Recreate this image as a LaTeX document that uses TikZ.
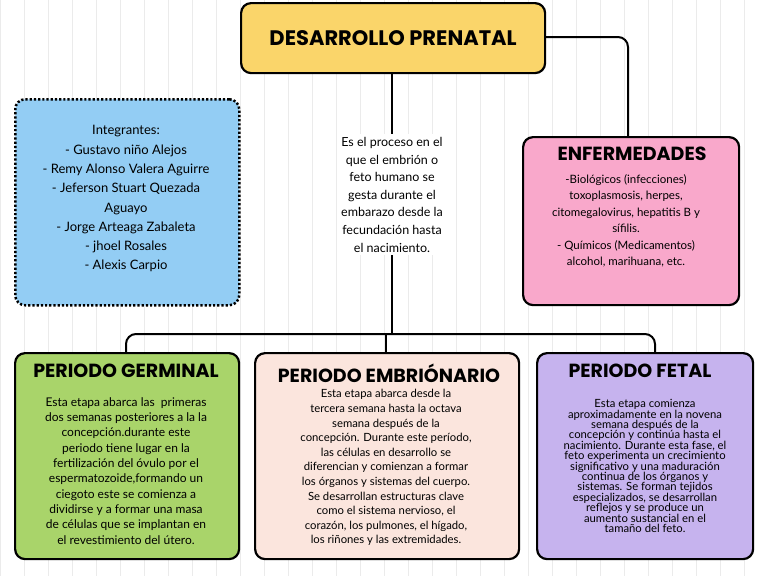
\documentclass[tikz,border=0pt]{standalone}
\usepackage{fontspec}
\setmainfont{Poppins}
\newfontfamily\bodyf{Lato}
\usetikzlibrary{positioning}
\definecolor{ttl}{HTML}{FAD56A}
\definecolor{blu}{HTML}{93CDF4}
\definecolor{pnk}{HTML}{F9A8CB}
\definecolor{grn}{HTML}{A9D46A}
\definecolor{emb}{HTML}{FBE5DD}
\definecolor{fet}{HTML}{C6B3EE}
\definecolor{gridc}{HTML}{EBEBEB}
\begin{document}
\begin{tikzpicture}[x=1pt,y=-1pt,
 box/.style={draw=black,line width=2.2pt,rounded corners=10pt,anchor=north west,inner sep=0pt},
 head/.style={font=\fontsize{19}{22}\selectfont\bfseries,anchor=north},
 body/.style={font=\bodyf\fontsize{10.5}{12.6}\selectfont,align=center,anchor=north},
 conn/.style={line width=2pt,rounded corners=10pt}]
\useasboundingbox (0,0) rectangle (768,576);
\fill[white] (0,0) rectangle (768,576);
\draw[gridc,step=24] (0,0) grid (768,576);
% connectors
\coordinate (jn) at (392,334);
\draw[conn] (392,72) -- (392,334);
\draw[conn] (126,352) -- (126,334) -- (655,334) -- (655,352);
\draw[conn] (386,334) -- (386,352);
\draw[conn] (544,37) -- (628,37) -- (628,136);
% title
\node[box,fill=ttl,minimum width=304,minimum height=70] (t) at (240,2) {};
\node[font=\fontsize{21}{24}\selectfont\bfseries] at (t.center) {DESARROLLO PRENATAL};
% integrantes
\node[box,fill=blu,draw=black,dotted,line width=2.5pt,minimum width=224,minimum height=206] (i) at (14,98) {};
\node[body,font=\bodyf\fontsize{13}{19.3}\selectfont] at (126,122) {Integrantes:\\- Gustavo niño Alejos\\- Remy Alonso Valera Aguirre\\- Jeferson Stuart Quezada\\Aguayo\\- Jorge Arteaga Zabaleta\\- jhoel Rosales\\- Alexis Carpio};
% description
\node[body,fill=white,font=\bodyf\fontsize{12.5}{17.6}\selectfont,inner sep=3pt] (d) at (392,134) {Es el proceso en el\\que el embrión o\\feto humano se\\gesta durante el\\embarazo desde la\\fecundación hasta\\el nacimiento.};
% enfermedades
\node[box,fill=pnk,minimum width=216,minimum height=168] (e) at (522,136) {};
\node[head] at (632,143) {ENFERMEDADES};
\node[body,font=\bodyf\fontsize{11.5}{16.5}\selectfont] at (626,171) {-Biológicos (infecciones)\\toxoplasmosis, herpes,\\citomegalovirus, hepatitis B y\\sífilis.\\- Químicos (Medicamentos)\\alcohol, marihuana, etc.};
% germinal
\node[box,fill=grn,minimum width=224,minimum height=206] (g) at (14,352) {};
\node[head] at (126,360) {PERIODO GERMINAL};
\node[body,font=\bodyf\fontsize{12}{15.3}\selectfont] at (126,394) {Esta etapa abarca las\ \ primeras\\dos semanas posteriores a la la\\concepción.durante este\\periodo tiene lugar en la\\fertilización del óvulo por el\\espermatozoide,formando un\\ciegoto este se comienza a\\dividirse y a formar una masa\\de células que se implantan en\\el revestimiento del útero.};
% embrionario
\node[box,fill=emb,minimum width=264,minimum height=206] (m) at (254,352) {};
\node[head] at (389,360) {PERIODO EMBRIÓNARIO};
\node[body,font=\bodyf\fontsize{11.3}{14.6}\selectfont] at (386,386) {Esta etapa abarca desde la\\tercera semana hasta la octava\\semana después de la\\concepción. Durante este período,\\las células en desarrollo se\\diferencian y comienzan a formar\\los órganos y sistemas del cuerpo.\\Se desarrollan estructuras clave\\como el sistema nervioso, el\\corazón, los pulmones, el hígado,\\los riñones y las extremidades.};
% fetal
\node[box,fill=fet,minimum width=216,minimum height=206] (f) at (536,352) {};
\node[head] at (640,360) {PERIODO FETAL};
\node[body,font=\bodyf\fontsize{11.3}{10.4}\selectfont] at (645,396) {Esta etapa comienza\\aproximadamente en la novena\\semana después de la\\concepción y continúa hasta el\\nacimiento. Durante esta fase, el\\feto experimenta un crecimiento\\significativo y una maduración\\continua de los órganos y\\sistemas. Se forman tejidos\\especializados, se desarrollan\\reflejos y se produce un\\aumento sustancial en el\\tamaño del feto.};
\end{tikzpicture}
\end{document}
